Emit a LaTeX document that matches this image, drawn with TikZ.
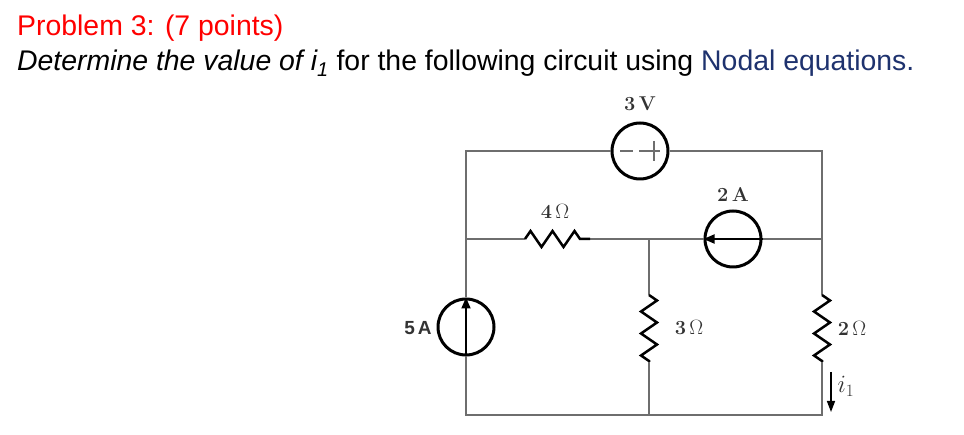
\documentclass[tikz,border=0pt]{standalone}
\usepackage{fontspec}
\setmainfont{Liberation Sans}
\newfontfamily\ser{Latin Modern Roman}
\usetikzlibrary{decorations.pathmorphing,arrows.meta}
\definecolor{wire}{RGB}{110,110,110}
\definecolor{navy}{RGB}{30,50,110}
\begin{document}
\begin{tikzpicture}[x=1pt,y=-1pt,
  w/.style={draw=wire,line width=2pt},
  src/.style={circle,draw=black,line width=3pt,minimum size=56pt,inner sep=0pt},
  res/.style={draw=black,line width=2.5pt,decorate,decoration={zigzag,segment length=22pt,amplitude=8pt}},
  lab/.style={font=\ser\fontsize{20}{20}\selectfont\bfseries,text=black!80}]
\useasboundingbox (0,0) rectangle (964,435);
\node[anchor=base west,inner sep=0pt,text=red,font=\fontsize{28.4}{28}\selectfont] (t1) at (17,36) {Problem 3: (7 points)};
\node[anchor=base west,inner sep=0pt,font=\fontsize{28.4}{28}\selectfont\itshape] (t2) at (17,71) {Determine the value of \textit{i}\textsubscript{\textit{1}}\upshape{} for the following circuit using \textcolor{navy}{Nodal equations.}};
\coordinate (TL) at (466,151); \coordinate (TR) at (822,151);
\coordinate (ML) at (466,239); \coordinate (MM) at (649,239); \coordinate (MR) at (822,239);
\coordinate (BL) at (466,415); \coordinate (BM) at (649,415); \coordinate (BR) at (822,415);
\coordinate (r4a) at (525,239); \coordinate (r4b) at (590,239);
\coordinate (r3a) at (649,295); \coordinate (r3b) at (649,362);
\coordinate (r2a) at (822,295); \coordinate (r2b) at (822,362);
\node[src] (v3) at (640,151) {};
\node[src] (a2) at (733,239) {};
\node[src] (a5) at (466,327) {};
\draw[w] (v3.west) -- (TL) -- (ML) -- (a5.north);
\draw[w] (a5.south) -- (BL) -- (BR) -- (r2b);
\draw[w] (v3.east) -- (TR) -- (MR) -- (r2a);
\draw[w] (ML) -- (r4a); \draw[w] (r4b) -- (MM) -- (a2.west); \draw[w] (a2.east) -- (MR);
\draw[w] (MM) -- (r3a); \draw[w] (r3b) -- (BM);
\draw[res] (r4a) -- (r4b);
\draw[res] (r3a) -- (r3b);
\draw[res] (r2a) -- (r2b);
\draw[line width=1.5pt,wire] (620,151) -- (633,151) (639,151) -- (660,151) (654,141) -- (654,161);
\draw[line width=1.8pt,-{Triangle[length=11pt,width=9pt]}] (a2.east) -- (a2.west);
\draw[line width=1.8pt,-{Triangle[length=11pt,width=9pt]}] (a5.south) -- (a5.north);
\coordinate (i1a) at (831,372); \coordinate (i1b) at (831,412);
\draw[line width=1.5pt,-{Triangle[length=11pt,width=8pt]}] (i1a) -- (i1b);
\node[lab] (l3v) at (640,104) {3\,V};
\node[lab] (l2a) at (733,195) {2\,A};
\node[lab] (l4) at (555,211) {4\,$\Omega$};
\node[lab,font=\fontsize{19}{19}\selectfont\bfseries] (l5a) at (418,328) {5\,A};
\node[lab] (l3) at (689,328) {3\,$\Omega$};
\node[lab] (l2) at (852,328) {2\,$\Omega$};
\node[lab,font=\ser\fontsize{24}{24}\selectfont] (li) at (846,386) {$i_1$};
\end{tikzpicture}
\end{document}
